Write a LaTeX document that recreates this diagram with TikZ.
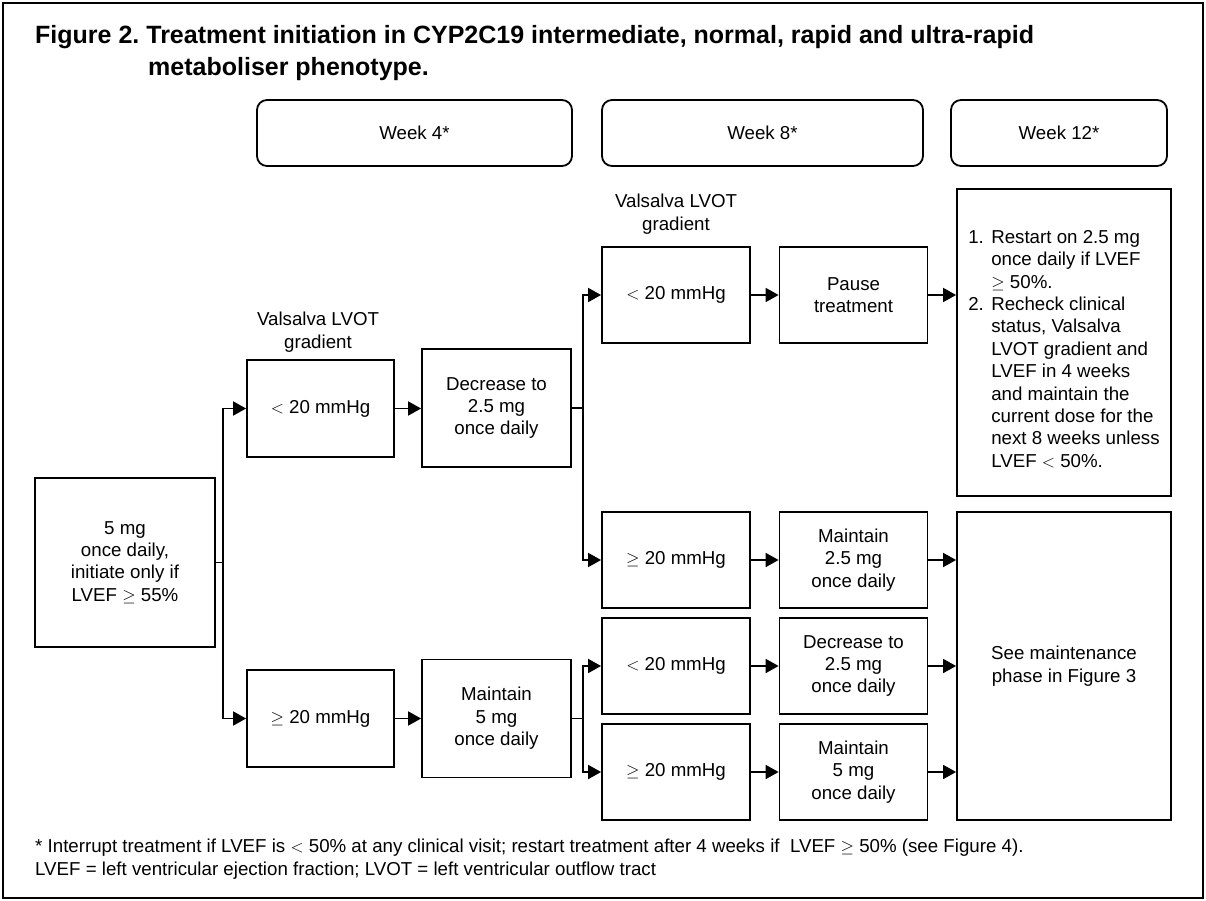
\documentclass[tikz,border=0pt]{standalone}
\usepackage{fontspec}
\setmainfont{Liberation Sans}
\usetikzlibrary{arrows.meta}
\usetikzlibrary{positioning}

\newcommand{\bodyfont}{\fontsize{18.7}{22.4}\selectfont}
\newcommand{\titlefont}{\fontsize{25}{32}\selectfont\bfseries}
\newcommand{\itm}[1]{\makebox[23pt][l]{#1}}
\frenchspacing

\begin{document}
\begin{tikzpicture}[x=1pt,y=-1pt,
    box/.style={draw,line width=1.8pt,align=center,inner sep=0pt,font=\bodyfont},
    hdr/.style={box,rounded corners=10pt,minimum width=#1,minimum height=66pt},
    small/.style={box,minimum width=148pt,minimum height=96pt},
    tall/.style={box,minimum width=149pt,minimum height=118pt},
    lbl/.style={align=center,inner sep=0pt,font=\bodyfont},
    link/.style={line width=1.8pt},
    arr/.style={line width=1.8pt,-{Triangle[length=13pt,width=14pt]}}]
    \useasboundingbox (0,0) rectangle (1206,901);
    \draw[line width=2.6pt] (3,3) rectangle (1203,898);

    % Title
    \node[anchor=north west,inner sep=0pt,align=left,font=\titlefont] (title) at (35,25)
        {Figure 2. Treatment initiation in CYP2C19 intermediate, normal, rapid and ultra-rapid\\
         \hspace*{113pt}metaboliser phenotype.};

    % Week headers
    \node[hdr=315pt] (week4) at (414.5,133) {Week 4*};
    \node[hdr=321pt] (week8) at (762.5,133) {Week 8*};
    \node[hdr=216pt] (week12) at (1059,133) {Week 12*};

    % Start
    \node[box,minimum width=180pt,minimum height=169pt] (start) at (125,562.5)
        {5 mg\\once daily,\\initiate only if\\LVEF $\geq$ 55\%};
    \coordinate (sj) at (223,562.5);

    % Week 4 check
    \node[box,minimum width=147pt,minimum height=97pt] (a1) at (320.5,408.5) {$<$ 20 mmHg};
    \node[box,minimum width=147pt,minimum height=97pt] (a2) at (320.5,718.5) {$\geq$ 20 mmHg};
    \node[lbl] (a1lbl) at (318,332) {Valsalva LVOT\\gradient};
    \node[tall] (b1) at (496.5,408) {Decrease to\\2.5 mg\\once daily};
    \node[tall] (b2) at (496.5,718.5) {Maintain\\5 mg\\once daily};
    \coordinate (bj1) at (583,408);
    \coordinate (bj2) at (583,718.5);

    % Week 8 check
    \node[lbl] (c1lbl) at (676,214) {Valsalva LVOT\\gradient};
    \node[small] (c1) at (676,295) {$<$ 20 mmHg};
    \node[small] (c2) at (676,560) {$\geq$ 20 mmHg};
    \node[small] (c3) at (676,666) {$<$ 20 mmHg};
    \node[small] (c4) at (676,772) {$\geq$ 20 mmHg};
    \node[small] (d1) at (853.5,295) {Pause\\treatment};
    \node[small] (d2) at (853.5,560) {Maintain\\2.5 mg\\once daily};
    \node[small] (d3) at (853.5,666) {Decrease to\\2.5 mg\\once daily};
    \node[small] (d4) at (853.5,772) {Maintain\\5 mg\\once daily};

    % Week 12
    \node[box,minimum width=214pt,minimum height=307pt] (e1) at (1064,342.5) {};
    \node[lbl,align=left] (e1txt) at (1064,349)
        {\itm{1.}Restart on 2.5 mg\\
         \itm{}once daily if LVEF\\
         \itm{}$\geq$ 50\%.\\
         \itm{2.}Recheck clinical\\
         \itm{}status, Valsalva\\
         \itm{}LVOT gradient and\\
         \itm{}LVEF in 4 weeks\\
         \itm{}and maintain the\\
         \itm{}current dose for the\\
         \itm{}next 8 weeks unless\\
         \itm{}LVEF $<$ 50\%.};
    \node[box,minimum width=214pt,minimum height=308pt] (e2) at (1064,666)
        {See maintenance\\phase in Figure 3};

    % Connectors
    \draw[link] (start.east) -- (sj);
    \draw[arr] (sj) |- (a1.west);
    \draw[arr] (sj) |- (a2.west);
    \draw[arr] (a1.east) -- (a1.east -| b1.west);
    \draw[arr] (a2.east) -- (b2.west);
    \draw[link] (b1.east) -- (bj1);
    \draw[arr] (bj1) |- (c1.west);
    \draw[arr] (bj1) |- (c2.west);
    \draw[link] (b2.east) -- (bj2);
    \draw[arr] (bj2) |- (c3.west);
    \draw[arr] (bj2) |- (c4.west);
    \draw[arr] (c1) -- (d1);
    \draw[arr] (c2) -- (d2);
    \draw[arr] (c3) -- (d3);
    \draw[arr] (c4) -- (d4);
    \draw[arr] (d1.east) -- (d1.east -| e1.west);
    \draw[arr] (d2.east) -- (d2.east -| e2.west);
    \draw[arr] (d3.east) -- (d3.east -| e2.west);
    \draw[arr] (d4.east) -- (d4.east -| e2.west);

    % Notes
    \node[anchor=north west,inner sep=0pt,align=left,font=\bodyfont] (notes) at (35,839)
        {* Interrupt treatment if LVEF is $<$ 50\% at any clinical visit; restart treatment after 4 weeks if\ \ LVEF $\geq$ 50\% (see Figure 4).\\
         LVEF = left ventricular ejection fraction; LVOT = left ventricular outflow tract};
\end{tikzpicture}
\end{document}
